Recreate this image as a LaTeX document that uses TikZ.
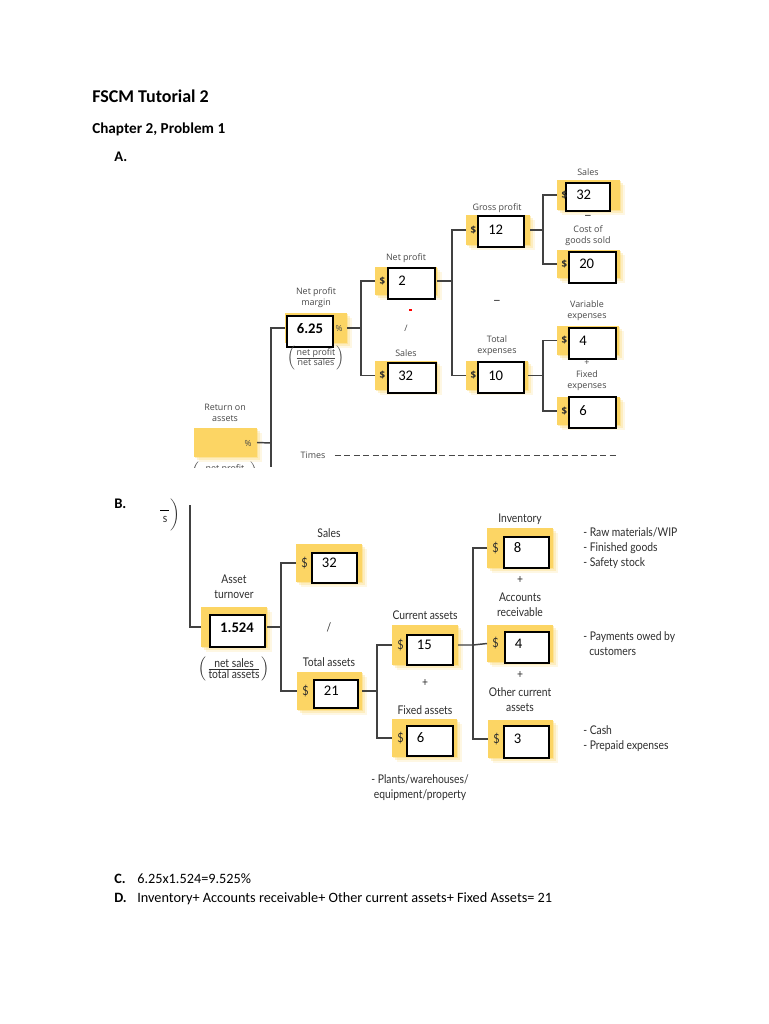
\documentclass[tikz,border=0pt]{standalone}
\usepackage{fontspec}
\setmainfont{Carlito}
\newfontfamily\fa{Open Sans}
\newfontfamily\fb[FakeStretch=0.86]{Lato}
\usetikzlibrary{shadows}
\definecolor{yel}{RGB}{252,213,100}
\definecolor{lna}{RGB}{65,65,65}
\definecolor{laba}{RGB}{72,72,72}
\definecolor{labb}{RGB}{45,45,45}
\tikzset{
 ybox/.style={fill=yel, draw=none, inner sep=0pt, outer sep=0pt,
   general shadow={shadow xshift=3.4pt, shadow yshift=-3.4pt, fill=yel, opacity=0.18},
   general shadow={shadow xshift=2.2pt, shadow yshift=-2.2pt, fill=yel, opacity=0.28},
   general shadow={shadow xshift=1.1pt, shadow yshift=-1.1pt, fill=yel, opacity=0.4}},
 wbox/.style={draw=black, line width=0.85pt, fill=white, inner sep=0pt, outer sep=0pt},
 conn/.style={draw=lna, line width=1.1pt},
 dsh/.style={draw=laba, line width=0.7pt, dash pattern=on 4.5pt off 2.6pt},
 laba/.style={font=\fa\fontsize{6.7}{8.4}\selectfont, text=laba, align=center, inner sep=0pt},
 mdash/.style={font=\fa\fontsize{10}{10}\selectfont, text=laba, inner sep=0pt},
 labb/.style={font=\fb\fontsize{9}{11.2}\selectfont, text=labb, align=center, inner sep=0pt},
 lst/.style={font=\fb\fontsize{9}{11.3}\selectfont, text=labb, align=left, anchor=west, inner sep=0pt},
 numa/.style={font=\fontsize{11}{13}\selectfont, anchor=west, inner sep=0pt},
 numb/.style={font=\bfseries\fontsize{11}{13}\selectfont, inner sep=0pt},
 dola/.style={font=\fa\bfseries\fontsize{7.3}{8}\selectfont, text=labb, anchor=west, inner sep=0pt},
 dolb/.style={font=\fb\fontsize{9.5}{11}\selectfont, text=labb, anchor=west, inner sep=0pt},
 pct/.style={font=\fa\fontsize{6.3}{7}\selectfont, text=laba, inner sep=0pt},
 doc/.style={anchor=base west, inner sep=0pt},
}
\newcommand\ybx[5]{\node[ybox, minimum width={((#4)-(#2))*0.75pt}, minimum height={((#5)-(#3))*0.75pt}] (#1) at ({((#2)+(#4))/2},{((#3)+(#5))/2}) {};}
\newcommand\wbx[5]{\node[wbox, minimum width={((#4)-(#2))*0.75pt}, minimum height={((#5)-(#3))*0.75pt}] (#1) at ({((#2)+(#4))/2},{((#3)+(#5))/2}) {};}
\begin{document}
\begin{tikzpicture}[x=0.75pt,y=-0.75pt]
\fill[white] (0,0) rectangle (768,1024);
\useasboundingbox (0,0) rectangle (768,1024);

% ---------- document text ----------
\node[doc, font=\bfseries\fontsize{13.5}{16}\selectfont] (title) at (92,103) {FSCM Tutorial 2};
\node[doc, font=\bfseries\fontsize{11.4}{13}\selectfont] (chap) at (92,133) {Chapter 2, Problem 1};
\node[doc, font=\bfseries\fontsize{11}{13}\selectfont] (secA) at (114,161) {A.};
\node[doc, font=\bfseries\fontsize{11}{13}\selectfont] (secB) at (114,508) {B.};
\node[doc, font=\bfseries\fontsize{10.7}{13}\selectfont] (secC) at (114,883) {C.};
\node[doc, font=\fontsize{10.7}{13}\selectfont] (txtC) at (137,883) {6.25x1.524=9.525\%};
\node[doc, font=\bfseries\fontsize{10.7}{13}\selectfont] (secD) at (114,902) {D.};
\node[doc, font=\fontsize{10.7}{13}\selectfont] (txtD) at (137,902) {Inventory+ Accounts receivable+ Other current assets+ Fixed Assets= 21};

% =================== TOP DIAGRAM ===================
\ybx{tSy}{557}{180}{620}{210}   \wbx{tSw}{566}{183}{610}{211}
\ybx{tCy}{557}{250}{620}{278}   \wbx{tCw}{569}{252}{616}{283}
\ybx{tGy}{466}{215}{530}{245}   \wbx{tGw}{478}{216}{524}{247}
\ybx{tNy}{375}{267}{437}{295}   \wbx{tNw}{388}{268}{435}{299}
\ybx{tSay}{375}{361}{437}{390}  \wbx{tSaw}{388}{363}{436}{393}
\ybx{tTy}{466}{361}{528}{390}   \wbx{tTw}{478}{362}{524}{393}
\ybx{tVy}{557}{326}{619}{355}   \wbx{tVw}{569}{328}{616}{359}
\ybx{tFy}{557}{397}{620}{425}   \wbx{tFw}{569}{397}{616}{428}
\ybx{tMy}{285}{313}{347}{343}   \wbx{tMw}{287}{316}{333}{347}
\ybx{tRy}{194}{428}{257}{457}

\foreach \n/\v in {tS/32,tC/20,tG/12,tN/2,tSa/32,tT/10,tV/4,tF/6}{
  \node[dola] at ([xshift=3.2pt]\n y.west) {\$};
  \node[numa] at ([xshift=7.5pt]\n w.west |- \n y.center) {\v};
}
\node[numb] (npmval) at (310,329) {6.25};
\node[pct] (npmpct) at (339,328) {\%};
\node[pct] (roapct) at (248,443) {\%};

\node[laba] (lSales1) at (588,172) {Sales};
\node[mdash] (lminus1) at (588,217) {\textendash};
\node[laba] (lCogs) at (588,236) {Cost of\\goods sold};
\node[laba] (lGP) at (497,208) {Gross profit};
\node[laba] (lNP) at (406,258) {Net profit};
\node[laba] (lNPM) at (316,298) {Net profit\\margin};
\node[mdash] (lminus2) at (497,302) {\textendash};
\fill[red] (408.5,309) rectangle (411.5,311);
\node[laba] (ldiv1) at (406,328) {/};
\node[laba] (lSales2) at (406,353) {Sales};
\node[laba] (lTE) at (497,346) {Total\\expenses};
\node[laba] (lVE) at (587,311) {Variable\\expenses};
\node[laba] (lplus1) at (587,363) {+};
\node[laba] (lFE) at (587,381) {Fixed\\expenses};
\node[laba] (lROA) at (225,413) {Return on\\assets};
\node[laba] (lfrac1) at (316,358) {$\left(\frac{\mbox{net profit}}{\mbox{net sales}}\right)$};
\node[laba] (times) at (313,455) {Times};
\coordinate (dashend) at (618,455);
\draw[dsh] ([xshift=7pt]times.east) -- (dashend);

\begin{scope}
\clip (180,430) rectangle (280,467);
\node[laba] (lfrac0) at (225,474) {$\left(\frac{\mbox{net profit}}{\mbox{total assets}}\right)$};
\end{scope}

\coordinate (j0) at (271,443);
\coordinate (cut0) at (271,467);
\draw[conn] (tRy.east) -- (j0);
\draw[conn] (tMy.west) -| (cut0);
\coordinate (j1) at (361,328);
\draw[conn] (tMy.east) -- (j1);
\draw[conn] (tNy.west) -| (j1) |- (tSay.west);
\coordinate (j2) at (452,281);
\draw[conn] (tNy.east) -- (j2);
\draw[conn] (tGy.west) -| (j2) |- (tTy.west);
\coordinate (j3) at (543,230);
\draw[conn] (tGy.east) -- (j3);
\draw[conn] (tSy.west) -| (j3) |- (tCy.west);
\coordinate (j4) at (543,375.5);
\draw[conn] (tTy.east) -- (j4);
\draw[conn] (tVy.west) -| (j4) |- (tFy.west);

% =================== BOTTOM DIAGRAM ===================
\ybx{bSy}{296}{544}{362}{582}   \wbx{bSw}{312}{553}{357}{583}
\ybx{bAy}{201}{607}{267}{647}   \wbx{bAw}{210}{615}{265}{647}
\ybx{bTy}{297}{672}{362}{710}   \wbx{bTw}{314}{680}{358}{708}
\ybx{bCy}{392}{625}{458}{665}   \wbx{bCw}{407}{635}{453}{665}
\ybx{bFy}{392}{719}{457}{757}   \wbx{bFw}{407}{726}{453}{756}
\ybx{bIy}{487}{528}{553}{568}   \wbx{bIw}{504}{537}{549}{568}
\ybx{bRy}{487}{625}{553}{662}   \wbx{bRw}{505}{632}{549}{663}
\ybx{bOy}{488}{720}{553}{758}   \wbx{bOw}{504}{726}{549}{758}

\foreach \n/\v in {bS/32,bT/21,bC/15,bF/6,bI/8,bR/4,bO/3}{
  \node[dolb] at ([xshift=3.8pt]\n y.west) {\$};
  \node[numa] at ([xshift=7.2pt]\n w.west |- \n y.center) {\v};
}
\node[numb] (atval) at (237,628) {1.524};

\node[labb] (bSales) at (329,533) {Sales};
\node[labb] (bAT) at (234,587) {Asset\\turnover};
\node[labb] (bdiv) at (329,627) {/};
\node[labb] (bTA) at (329,662) {Total assets};
\node[labb] (bfrac) at (234,669) {$\left(\frac{\mbox{net sales}}{\mbox{total assets}}\right)$};
\node[labb] (bCA) at (425,615) {Current assets};
\node[labb] (bplus1) at (425,683) {+};
\node[labb] (bFA) at (425,710) {Fixed assets};
\node[labb] (bPlants) at (420,788) {- Plants/warehouses/\\equipment/property};
\node[labb] (bInv) at (520,519) {Inventory};
\node[labb] (bplus2) at (520,580) {+};
\node[labb] (bAR) at (520,605) {Accounts\\receivable};
\node[labb] (bplus3) at (520,675) {+};
\node[labb] (bOCA) at (520,700) {Other current\\assets};
\node[lst] (li1) at (583,548) {- Raw materials/WIP\\- Finished goods\\- Safety stock};
\node[lst] (li2) at (583,644) {- Payments owed by\\\hspace*{4.5pt}customers};
\node[lst] (li3) at (583,739) {- Cash\\- Prepaid expenses};

% cut-off end of a fraction, top-left of part B
\draw[labb, line width=0.5pt] (160,510.5) -- (169,510.5);
\node[labb] (bfs) at (165,519) {s};
\node[labb] (bfp) at (175,515) {$\bigg)$};

\coordinate (top0) at (190,505);
\coordinate (k0) at (190,627);
\draw[conn] (top0) -- (k0) -- (bAy.west);
\coordinate (k1) at (281,627);
\draw[conn] (bAy.east) -- (k1);
\draw[conn] (bSy.west) -| (k1) |- (bTy.west);
\coordinate (k2) at (377,691);
\draw[conn] (bTy.east) -- (k2);
\draw[conn] (bCy.west) -| (k2) |- (bFy.west);
\coordinate (k3) at (473,645);
\draw[conn] (bCy.east) -- (k3) -- (bRy.west);
\draw[conn] (bIy.west) -| (k3) |- (bOy.west);
\end{tikzpicture}
\end{document}
